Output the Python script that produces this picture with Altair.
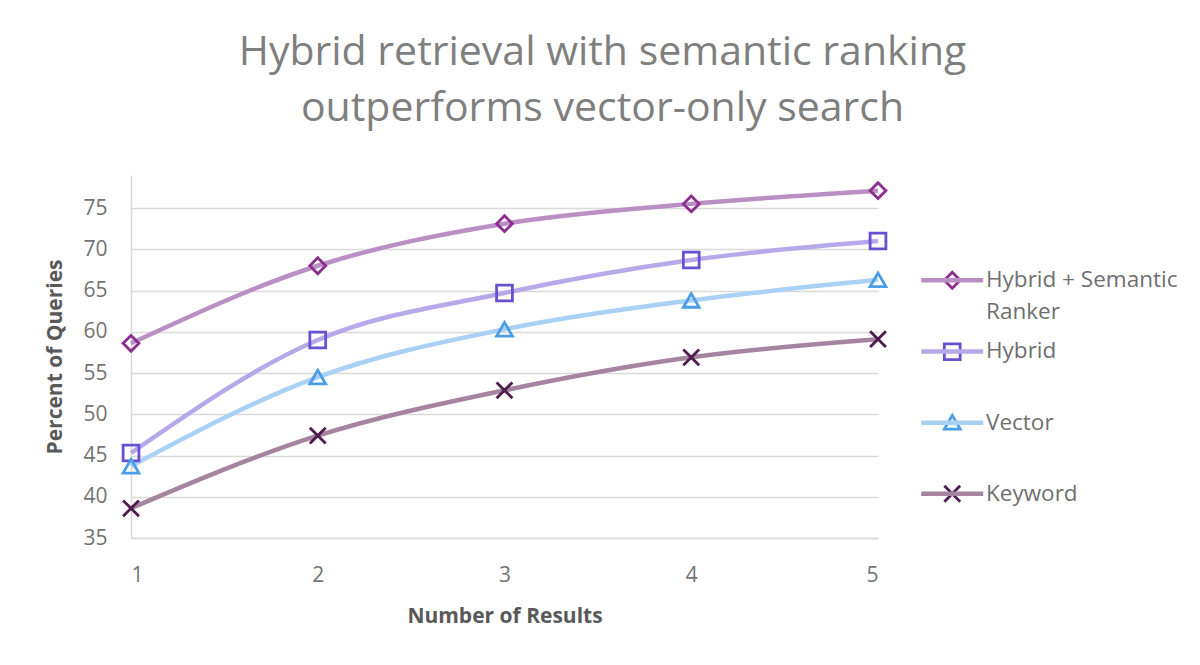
import altair as alt
import pandas as pd

# ---- data ----
results = [1, 2, 3, 4, 5]
series_names = ["Hybrid + Semantic Ranker", "Hybrid", "Vector", "Keyword"]
hybrid_semantic = [58.6, 68.0, 73.1, 75.5, 77.1]
hybrid = [45.3, 59.0, 64.7, 68.7, 71.0]
vector = [43.7, 54.5, 60.3, 63.8, 66.3]
keyword = [38.6, 47.4, 52.9, 56.9, 59.1]
y_ticks = [35, 40, 45, 50, 55, 60, 65, 70, 75]

line_colors = ["#b98fc4", "#b6a9ea", "#a9d0f5", "#a4849f"]
marker_colors = ["#8b2d8d", "#6a50d0", "#4b9de6", "#4f1c4f"]
marker_shapes = ["diamond", "square", "triangle-up", "M-1,-1L1,1M-1,1L1,-1"]

rows = []
for name, vals in zip(series_names, [hybrid_semantic, hybrid, vector, keyword]):
    for x, v in zip(results, vals):
        rows.append({"results": x, "series": name, "value": v})
df = pd.DataFrame(rows)

FONT = "Open Sans"
label_expr = ("datum.label == 'Hybrid + Semantic Ranker' ? ['Hybrid + Semantic', 'Ranker'] "
              ": [datum.label, '']")
# marker legend: same two-line layout, but no visible text (labels come from the line legend)
blank_expr = "[' ', '']"

x_enc = alt.X("results:Q",
              scale=alt.Scale(domain=[1, 5], nice=False, zero=False),
              axis=alt.Axis(values=results, format="d", title="Number of Results",
                            grid=False, ticks=False, labelPadding=26, titlePadding=20,
                            domainColor="#d9d9d9", domainWidth=1.5))
y_enc = alt.Y("value:Q",
              scale=alt.Scale(domain=[35, 79], nice=False, zero=False),
              axis=alt.Axis(values=y_ticks, title="Percent of Queries", ticks=False,
                            labelPadding=24, titlePadding=17, gridColor="#d9d9d9",
                            gridWidth=1.5, domainColor="#d9d9d9", domainWidth=1.5))

SYM = 250
lines = alt.Chart(df).mark_line(interpolate="monotone", strokeWidth=4.5).encode(
    x=x_enc,
    y=y_enc,
    color=alt.Color("series:N", sort=series_names,
                    scale=alt.Scale(domain=series_names, range=line_colors),
                    legend=alt.Legend(title=None, orient="none", legendX=810, legendY=94,
                                      symbolType="M-3.92,0L3.92,0", symbolSize=SYM,
                                      symbolStrokeWidth=4.5, labelOffset=22.5,
                                      labelExpr=label_expr, rowPadding=16.2, padding=0)),
)

points = alt.Chart(df).mark_point(filled=False, strokeWidth=2.8, size=SYM, opacity=1).encode(
    x=x_enc,
    y=y_enc,
    stroke=alt.Stroke("series:N", sort=series_names,
                      scale=alt.Scale(domain=series_names, range=marker_colors),
                      legend=alt.Legend(title=None, orient="none", legendX=810, legendY=94,
                                        symbolSize=SYM, symbolStrokeWidth=2.8,
                                        labelOffset=5, labelExpr=blank_expr,
                                        rowPadding=13.5, padding=0)),
    shape=alt.Shape("series:N", sort=series_names,
                    scale=alt.Scale(domain=series_names, range=marker_shapes),
                    legend=alt.Legend(title=None, orient="none", legendX=810, legendY=94,
                                      symbolSize=SYM, symbolStrokeWidth=2.8,
                                      labelOffset=5, labelExpr=blank_expr,
                                      rowPadding=13.5, padding=0)),
)

chart = alt.layer(lines, points).resolve_legend(color="independent").properties(
    width=747,
    height=363,
    autosize=alt.AutoSizeParams(type="none"),
    padding={"left": 123, "top": 167, "right": 314, "bottom": 120},
    title=alt.TitleParams(
        text=["Hybrid retrieval with semantic ranking", "outperforms vector-only search"],
        font=FONT, fontSize=41, fontWeight="normal", color="#7f7f7f",
        lineHeight=56, anchor="middle", dx=98, offset=45,
    ),
).configure(
    background="white",
    font=FONT,
    style={"guide-label": {"lineHeight": 32}},
).configure_view(
    strokeWidth=0,
).configure_axis(
    labelFont=FONT, labelFontSize=21, labelColor="#737373",
    titleFont=FONT, titleFontSize=21, titleFontWeight="bold", titleColor="#595959",
).configure_legend(
    labelFont=FONT, labelFontSize=22.5, labelColor="#6f6f6f", labelLimit=400,
)

chart.save("out.html", embed_options={"renderer": "svg", "actions": False})
